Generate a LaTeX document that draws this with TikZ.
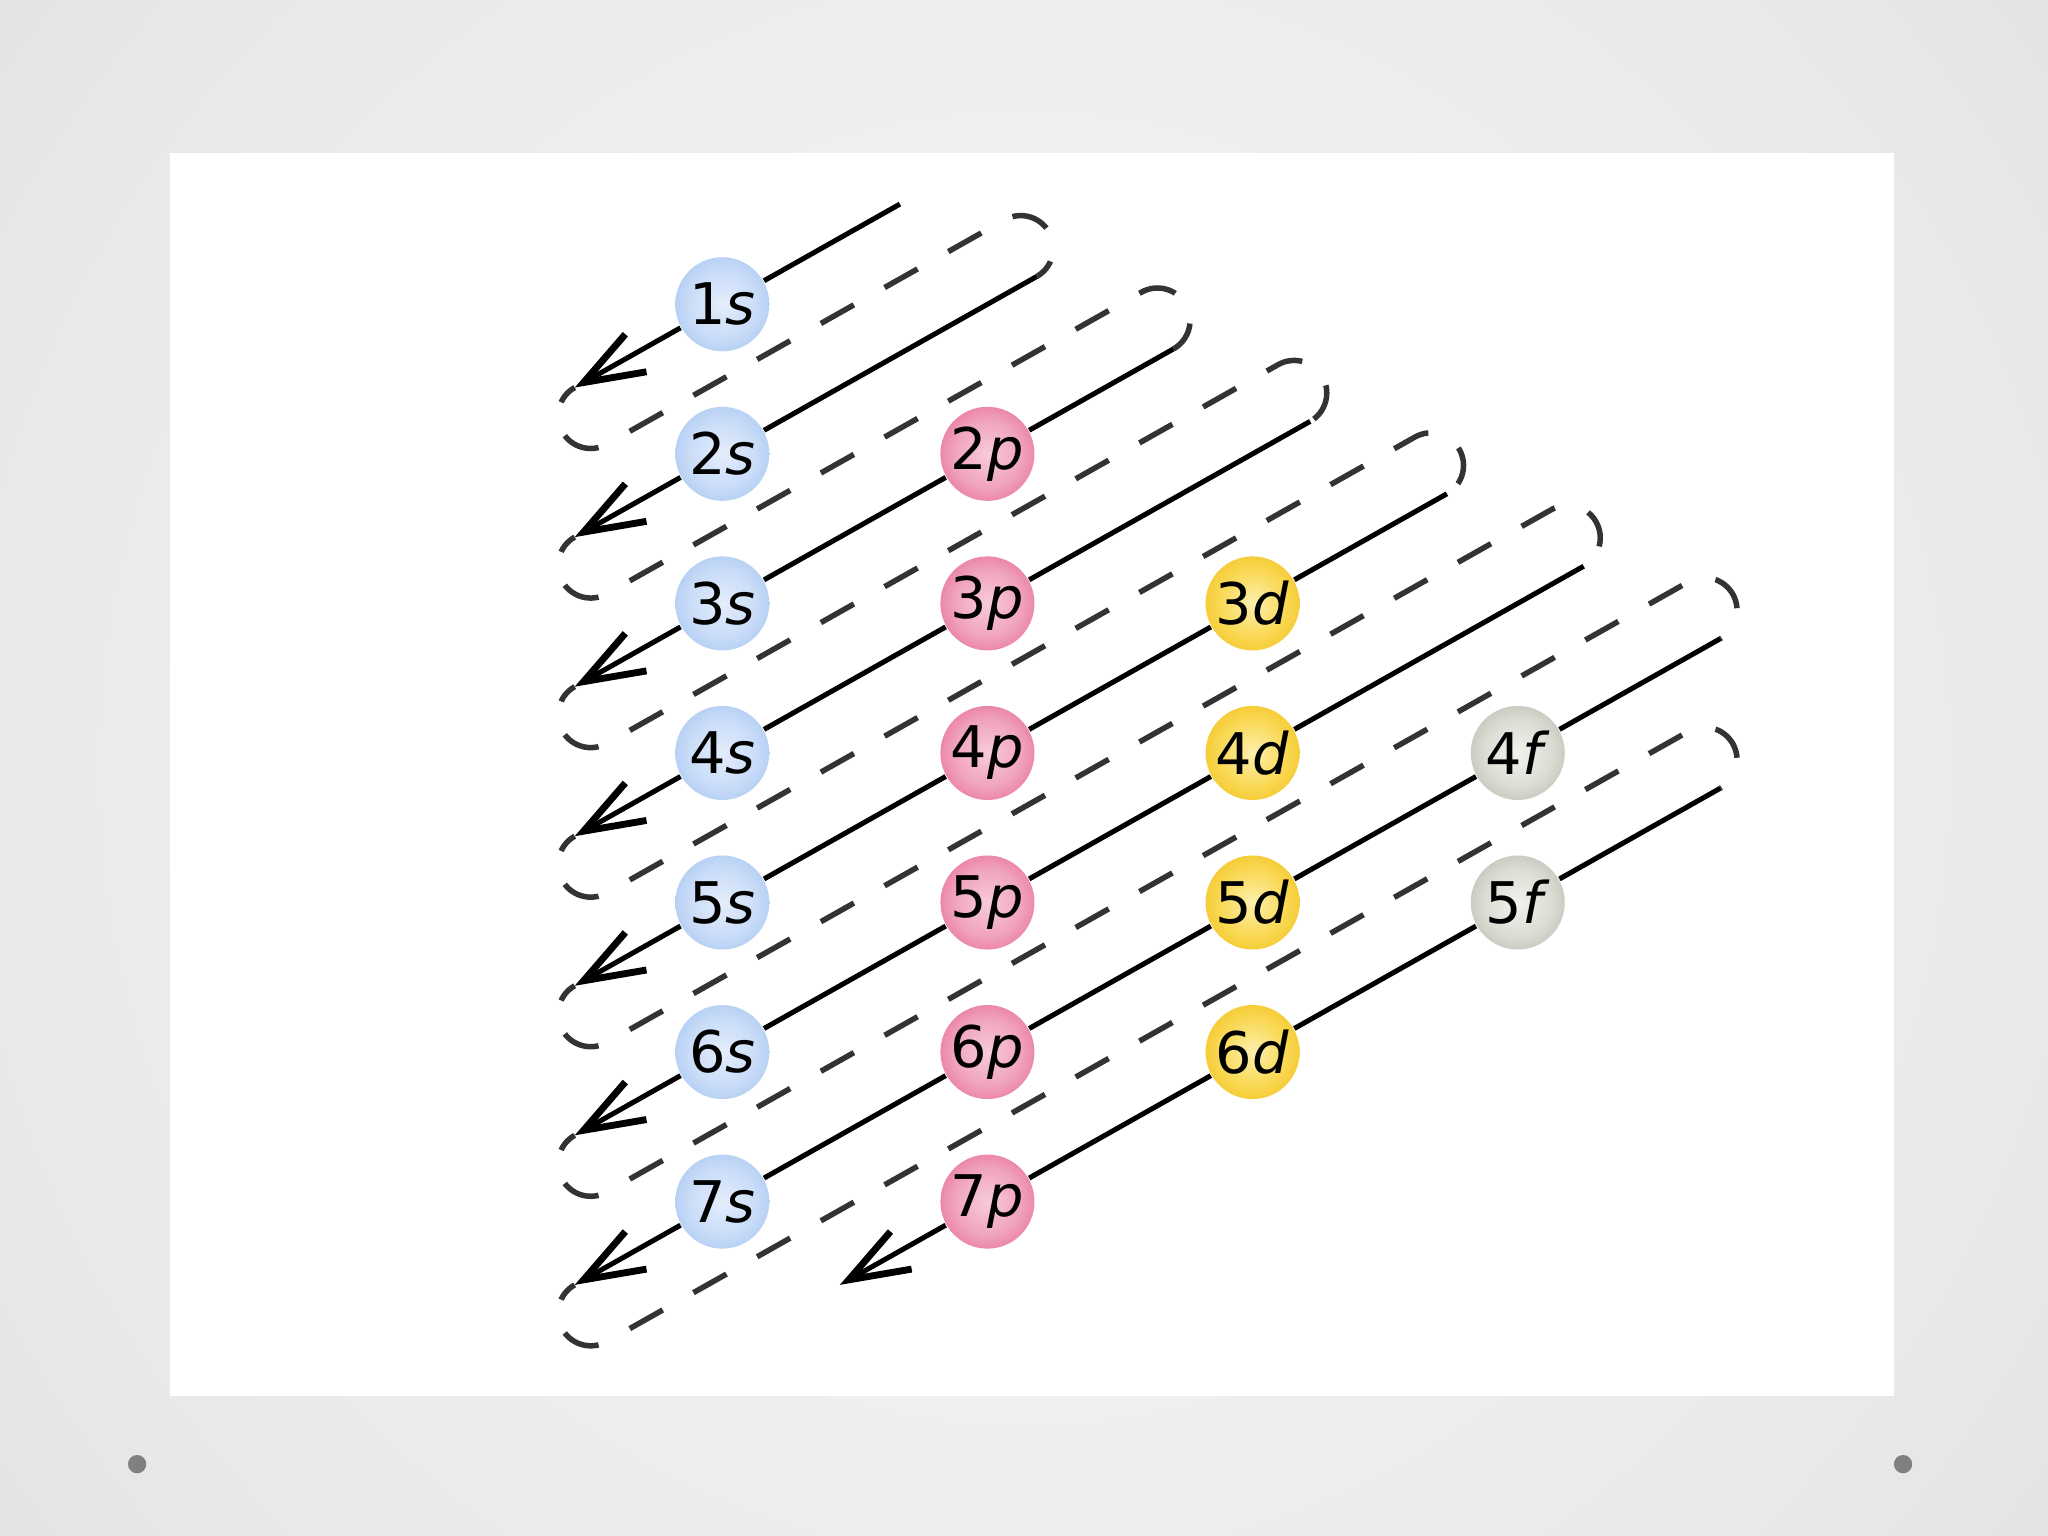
\documentclass[tikz,border=0pt]{standalone}
\usepackage{fontspec}
\setmainfont{DejaVu Sans}
\usetikzlibrary{arrows.meta,calc}

\definecolor{sLight}{HTML}{E4EDFB}
\definecolor{sMid}{HTML}{C9DCF8}
\definecolor{sDark}{HTML}{9FC1EE}
\definecolor{pLight}{HTML}{F7CCDA}
\definecolor{pMid}{HTML}{F0A3BC}
\definecolor{pDark}{HTML}{E5618B}
\definecolor{dLight}{HTML}{FDF0AE}
\definecolor{dMid}{HTML}{F9D853}
\definecolor{dDark}{HTML}{F2BD14}
\definecolor{fLight}{HTML}{F2F2EE}
\definecolor{fMid}{HTML}{DCDCD4}
\definecolor{fDark}{HTML}{B4B4A9}
\definecolor{bgLight}{HTML}{EFEFEF}
\definecolor{bgMid}{HTML}{E8E8E8}
\definecolor{bgDark}{HTML}{D6D6D6}
\definecolor{dotGray}{HTML}{808080}

\pgfdeclareradialshading{sShade}{\pgfpoint{0bp}{0bp}}{color(0bp)=(sLight); color(18bp)=(sMid); color(35bp)=(sDark); color(50bp)=(sDark)}
\pgfdeclareradialshading{pShade}{\pgfpoint{0bp}{0bp}}{color(0bp)=(pLight); color(18bp)=(pMid); color(35bp)=(pDark); color(50bp)=(pDark)}
\pgfdeclareradialshading{dShade}{\pgfpoint{0bp}{0bp}}{color(0bp)=(dLight); color(18bp)=(dMid); color(35bp)=(dDark); color(50bp)=(dDark)}
\pgfdeclareradialshading{fShade}{\pgfpoint{0bp}{0bp}}{color(0bp)=(fLight); color(18bp)=(fMid); color(35bp)=(fDark); color(50bp)=(fDark)}
\pgfdeclareradialshading{bgShade}{\pgfpoint{0bp}{0bp}}{color(0bp)=(bgLight); color(12bp)=(bgLight); color(21bp)=(bgMid); color(35bp)=(bgDark); color(50bp)=(bgDark)}

\tikzset{
	orbital/.style = {circle, minimum size = 0.72cm, inner sep = 0pt, font = \fontsize{12.5}{12.5}\selectfont},
	sorb/.style = {orbital, shading = sShade},
	porb/.style = {orbital, shading = pShade},
	dorb/.style = {orbital, shading = dShade},
	forb/.style = {orbital, shading = fShade},
	flow/.style = {line width = 1.1pt, -{Straight Barb[length = 4.6mm, width = 3.3mm, line width = 1.5pt]}},
	backpath/.style = {line width = 1.2pt, black!80, dash pattern = on 2.9mm off 2.7mm, dash phase = 1.34mm}
}

\begin{document}
\begin{tikzpicture}
	\useasboundingbox (0, 0) rectangle (15.68, 11.76);
	\begin{scope}
		\clip (0, 0) rectangle (15.68, 11.76);
		\shade [shading = bgShade] (7.84, 5.88) circle (10);
	\end{scope}
	\fill [white] (1.30, 1.07) rectangle (14.50, 10.59);
	\fill [dotGray] (1.05, 0.55) circle (0.07);
	\fill [dotGray] (14.57, 0.55) circle (0.07);

	\node [sorb] (s1) at (5.53, 9.43) {1\textit{s}};
	\node [sorb] (s2) at (5.53, 8.285) {2\textit{s}};
	\node [sorb] (s3) at (5.53, 7.14) {3\textit{s}};
	\node [sorb] (s4) at (5.53, 5.995) {4\textit{s}};
	\node [sorb] (s5) at (5.53, 4.85) {5\textit{s}};
	\node [sorb] (s6) at (5.53, 3.705) {6\textit{s}};
	\node [sorb] (s7) at (5.53, 2.56) {7\textit{s}};

	\node [porb] (p2) at (7.56, 8.285) {2\textit{p}};
	\node [porb] (p3) at (7.56, 7.14) {3\textit{p}};
	\node [porb] (p4) at (7.56, 5.995) {4\textit{p}};
	\node [porb] (p5) at (7.56, 4.85) {5\textit{p}};
	\node [porb] (p6) at (7.56, 3.705) {6\textit{p}};
	\node [porb] (p7) at (7.56, 2.56) {7\textit{p}};

	\node [dorb] (d3) at (9.59, 7.14) {3\textit{d}};
	\node [dorb] (d4) at (9.59, 5.995) {4\textit{d}};
	\node [dorb] (d5) at (9.59, 4.85) {5\textit{d}};
	\node [dorb] (d6) at (9.59, 3.705) {6\textit{d}};

	\node [forb] (f4) at (11.62, 5.995) {4\textit{f}};
	\node [forb] (f5) at (11.62, 4.85) {5\textit{f}};

	\coordinate (top1) at (6.89, 10.1971);
	\coordinate (top2) at (7.937, 9.6426);
	\coordinate (top3) at (8.984, 9.0882);
	\coordinate (top4) at (10.031, 8.5337);
	\coordinate (top5) at (11.078, 7.9793);
	\coordinate (top6) at (12.125, 7.4248);
	\coordinate (top7) at (13.172, 6.8704);
	\coordinate (top8) at (13.172, 5.7254);

	\coordinate (tip1) at (4.40, 8.7926);
	\coordinate (tip2) at (4.40, 7.6476);
	\coordinate (tip3) at (4.40, 6.5026);
	\coordinate (tip4) at (4.40, 5.3576);
	\coordinate (tip5) at (4.40, 4.2126);
	\coordinate (tip6) at (4.40, 3.0676);
	\coordinate (tip7) at (4.40, 1.9226);
	\coordinate (tip8) at (6.43, 1.9226);

	\draw [flow] (top1) -- (s1) -- (tip1);
	\draw [flow] (top2) -- (s2) -- (tip2);
	\draw [flow] (top3) -- (p2) -- (s3) -- (tip3);
	\draw [flow] (top4) -- (p3) -- (s4) -- (tip4);
	\draw [flow] (top5) -- (d3) -- (p4) -- (s5) -- (tip5);
	\draw [flow] (top6) -- (d4) -- (p5) -- (s6) -- (tip6);
	\draw [flow] (top7) -- (f4) -- (d5) -- (p6) -- (s7) -- (tip7);
	\draw [flow] (top8) -- (f5) -- (d6) -- (p7) -- (tip8);

	% dashed way back to the next diagonal
	\draw [backpath] (tip1) arc [start angle = 119.42, end angle = 299.42, radius = 0.2494] -- ($(top2) + (119.42:0.4987)$) arc [start angle = 119.42, end angle = -60.58, radius = 0.2494];
	\draw [backpath] (tip2) arc [start angle = 119.42, end angle = 299.42, radius = 0.2494] -- ($(top3) + (119.42:0.4987)$) arc [start angle = 119.42, end angle = -60.58, radius = 0.2494];
	\draw [backpath] (tip3) arc [start angle = 119.42, end angle = 299.42, radius = 0.2494] -- ($(top4) + (119.42:0.4987)$) arc [start angle = 119.42, end angle = -60.58, radius = 0.2494];
	\draw [backpath] (tip4) arc [start angle = 119.42, end angle = 299.42, radius = 0.2494] -- ($(top5) + (119.42:0.4987)$) arc [start angle = 119.42, end angle = -60.58, radius = 0.2494];
	\draw [backpath] (tip5) arc [start angle = 119.42, end angle = 299.42, radius = 0.2494] -- ($(top6) + (119.42:0.4987)$) arc [start angle = 119.42, end angle = -60.58, radius = 0.2494];
	\draw [backpath] (tip6) arc [start angle = 119.42, end angle = 299.42, radius = 0.2494] -- ($(top7) + (119.42:0.4987)$) arc [start angle = 119.42, end angle = -60.58, radius = 0.2494];
	\draw [backpath] (tip7) arc [start angle = 119.42, end angle = 299.42, radius = 0.2494] -- ($(top8) + (119.42:0.4987)$) arc [start angle = 119.42, end angle = -60.58, radius = 0.2494];
\end{tikzpicture}
\end{document}
